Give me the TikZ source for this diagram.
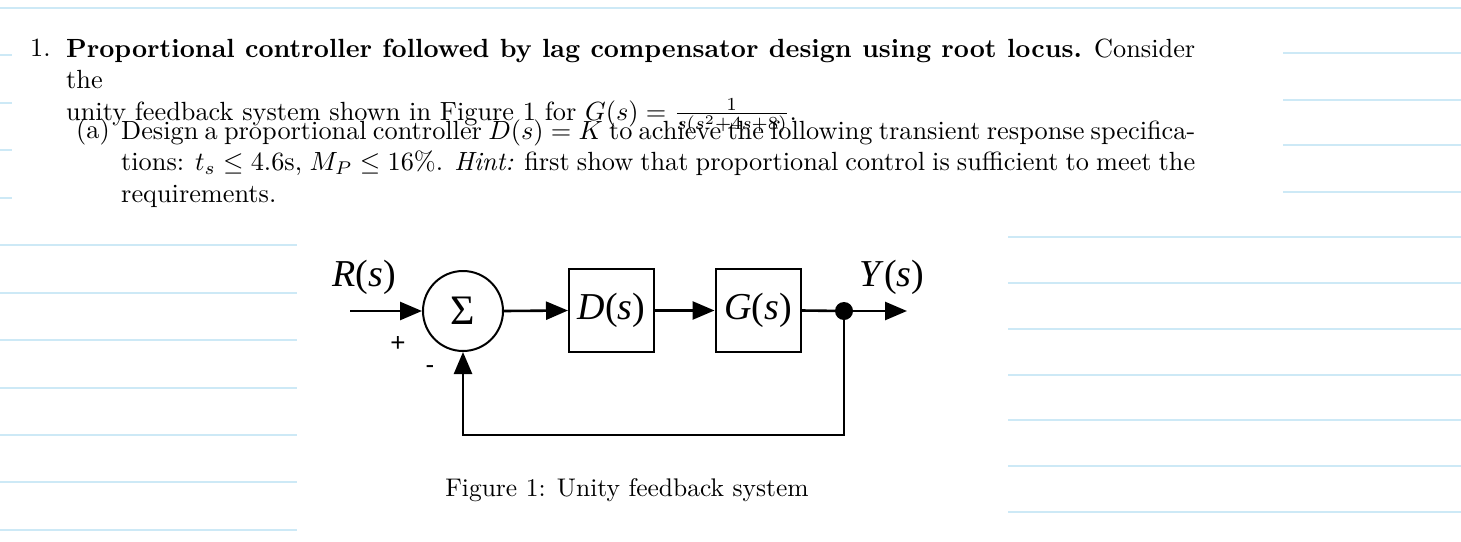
\documentclass[tikz,border=0pt]{standalone}
\usepackage{fontspec}
\usepackage{graphicx}
\newfontfamily\tnr{Liberation Serif}
\newfontfamily\arl{Liberation Sans}
\usetikzlibrary{arrows.meta}
\definecolor{rule}{HTML}{CDE9F6}
\begin{document}
\begin{tikzpicture}[x=1pt,y=-1pt,
  ruleline/.style={rule,line width=1.2pt},
  sig/.style={line width=2.6pt},
  arr/.style={sig,-{Triangle[length=22pt,width=18pt]}},
  blk/.style={draw,line width=2pt,minimum width=85pt,minimum height=83pt,inner sep=0pt,font=\tnr\fontsize{38}{40}\selectfont},
  lbl/.style={font=\tnr\fontsize{38}{40}\selectfont,inner sep=0pt},
  body/.style={inner sep=0pt}]
\useasboundingbox (0,0) rectangle (1461,541);
% ruled lines
\draw[ruleline] (0,8) -- (1461,8);
\foreach \y in {55,103,150,198} \draw[ruleline] (0,\y) -- (12,\y);
\foreach \y in {53,100,145,192} \draw[ruleline] (1283,\y) -- (1461,\y);
\foreach \y in {245,293,340,388,435,482,530} \draw[ruleline] (0,\y) -- (297,\y);
\foreach \y in {237,283,329,375,420,466,512} \draw[ruleline] (1008,\y) -- (1461,\y);
% text
\node[body,anchor=base west] (n1) at (30,56) {\scalebox{2.63}{1.}};
\node[body,anchor=north west] (p1) at (66,35)
 {\scalebox{2.63}{\parbox[t]{429.3pt}{\fontsize{10}{12}\selectfont\strut\textbf{Proportional controller followed by lag compensator design using root locus.} Consider the\linebreak
 unity feedback system shown in Figure 1 for $G(s)=\frac{1}{s(s^2+4s+8)}$.}}};
\node[body,anchor=base west] (na) at (76,138) {\scalebox{2.63}{(a)}};
\node[body,anchor=north west] (pa) at (121,117)
 {\scalebox{2.63}{\parbox[t]{408.4pt}{\fontsize{10}{12}\selectfont\strut Design a proportional controller $D(s)=K$ to achieve the following transient response specifica-\linebreak
 tions: $t_s\le 4.6$s, $M_P\le 16\%$. \emph{Hint:} first show that proportional control is sufficient to meet the\linebreak
 requirements.}}};
\node[body,anchor=base] (cap) at (627,496) {\scalebox{2.55}{Figure 1: Unity feedback system}};
% diagram
\node[draw,circle,line width=2pt,minimum size=80pt,inner sep=0pt,font=\tnr\fontsize{42}{44}\selectfont] (sum) at (463,311) {Σ};
\node[blk] (D) at (611.5,310.5) {\textit{D}(\textit{s})};
\node[blk] (G) at (758,310.5) {\textit{G}(\textit{s})};
\coordinate (in) at (350,311);
\fill (844,311) circle (9pt) coordinate (dot);
\coordinate (out) at (907,311);
\coordinate (c1) at (844,435);
\coordinate (c2) at (463,435);
\node[lbl] (R) at (364,277) {\textit{R}(\textit{s})};
\node[lbl] (Y) at (892,277) {\textit{Y}(\textit{s})};
\node[font=\arl\fontsize{26}{28}\selectfont,inner sep=0pt] (plus) at (398,344) {+};
\node[font=\arl\fontsize{26}{28}\selectfont,inner sep=0pt] (minus) at (430,370) {-};
\draw[arr] (in) -- (sum.west);
\draw[arr] (sum.east) -- (D.west);
\draw[arr] (D.east) -- (G.west);
\draw[sig] (G.east) -- (dot);
\draw[arr] (dot) -- (out);
\draw[arr] (dot) -- (c1) -- (c2) -- (sum.south);
\end{tikzpicture}
\end{document}
